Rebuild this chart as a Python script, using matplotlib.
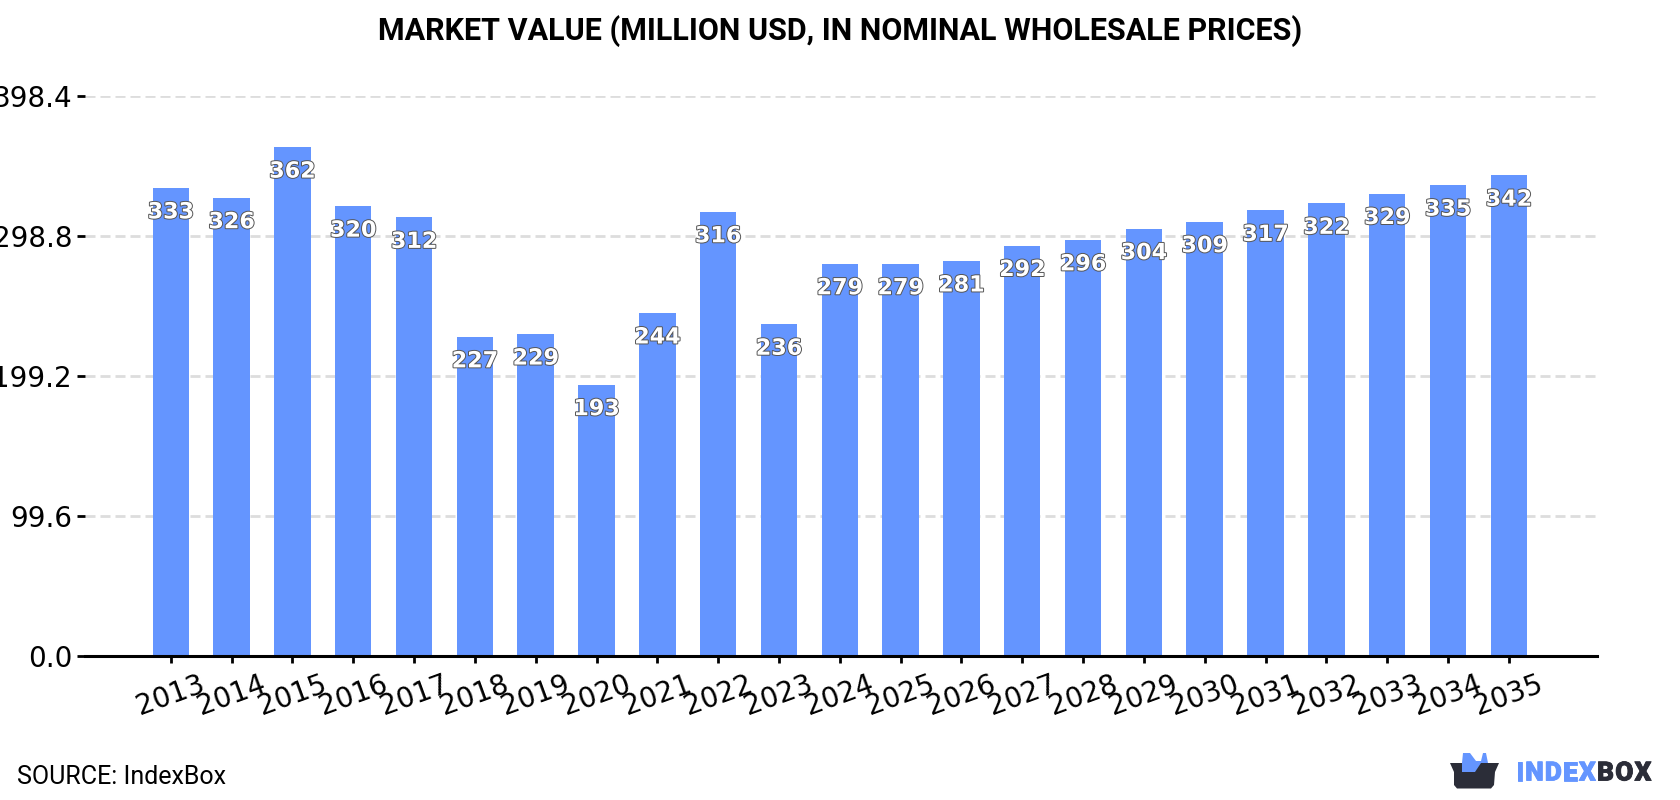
import matplotlib
matplotlib.use('Agg')
import matplotlib.pyplot as plt
import matplotlib.patheffects as pe
from matplotlib.patches import Polygon

years = [2013, 2014, 2015, 2016, 2017, 2018, 2019, 2020, 2021, 2022, 2023, 2024,
         2025, 2026, 2027, 2028, 2029, 2030, 2031, 2032, 2033, 2034, 2035]
values = [333, 326, 362, 320, 312, 227, 229, 193, 244, 316, 236, 279,
          279, 281, 292, 296, 304, 309, 317, 322, 329, 335, 342]
y_ticks = [0.0, 99.6, 199.2, 298.8, 398.4]

BLUE = '#6495ff'
DARK = '#2b2d38'
W, H = 1680, 800

fig = plt.figure(figsize=(W / 100, H / 100), dpi=100)

# axes placed in pixels
left, right, top, bottom = 85, 1597, 96, 656
ax = fig.add_axes([left / W, 1 - bottom / H, (right - left) / W, (bottom - top) / H])

ax.bar(years, values, width=0.6, color=BLUE, zorder=2)
ax.set_xlim(years[0] - 1.41, years[-1] + 1.45)
ax.set_ylim(0, y_ticks[-1])

ax.set_yticks(y_ticks)
ax.set_yticklabels([f'{t:.1f}' for t in y_ticks])
ax.set_xticks(years)
ax.tick_params(axis='y', labelsize=20, length=5.75, width=2, pad=3.6)
ax.tick_params(axis='x', labelsize=20, length=5, width=2, pad=5, labelrotation=20)
ax.grid(axis='y', color='#dddddd', linestyle=(0, (3.6, 1.8)), linewidth=2, zorder=1)
ax.set_axisbelow(True)

for s in ['top', 'left', 'right']:
    ax.spines[s].set_visible(False)
ax.spines['bottom'].set_linewidth(2.2)

# value labels, white with a grey outline
for yr, v in zip(years, values):
    ax.annotate(str(v), (yr, v), xytext=(0, -17.6), textcoords='offset points',
                ha='center', va='center', fontsize=16, fontweight='bold', color='white',
                zorder=3,
                path_effects=[pe.withStroke(linewidth=1.4, foreground='#555555')])

fig.text(840 / W, 1 - 31.5 / H, 'MARKET VALUE (MILLION USD, IN NOMINAL WHOLESALE PRICES)',
         family='Roboto', fontweight='bold', fontsize=22, ha='center', va='center', color='black')
fig.text(17 / W, 1 - 776.5 / H, 'SOURCE: IndexBox', family='Roboto', fontsize=18,
         ha='left', va='center', color='black')

# logo, drawn on an overlay in pixel coordinates
logo = fig.add_axes([0, 0, 1, 1], facecolor='none')
logo.set_xlim(0, W)
logo.set_ylim(H, 0)
logo.axis('off')
logo.add_patch(Polygon([(1462, 763), (1463, 753), (1470, 753), (1476, 761), (1481, 761),
                        (1483, 753), (1486, 753), (1488, 763), (1482, 772), (1462, 772)],
                       closed=True, fc=BLUE, ec='none'))
logo.add_patch(Polygon([(1450, 763), (1462, 763), (1462, 772), (1475, 772), (1481, 763), (1499, 763),
                        (1495, 772), (1494, 785), (1491, 788.5), (1457, 788.5), (1454, 785),
                        (1454, 772)],
                       closed=True, fc=DARK, ec='none'))

# wordmark is set letter by letter to get the wide tracking
renderer = fig.canvas.get_renderer()
pen = 1516
for ch, col in zip('INDEXBOX', [BLUE] * 5 + [DARK] * 3):
    t = logo.text(pen, 773.5, ch, family='Roboto', fontweight='black', fontsize=19,
                  color=col, ha='left', va='center',
                  path_effects=[pe.withStroke(linewidth=0.6, foreground=col)])
    pen += t.get_window_extent(renderer).width + 1.2

fig.savefig('out.png', dpi=100)
